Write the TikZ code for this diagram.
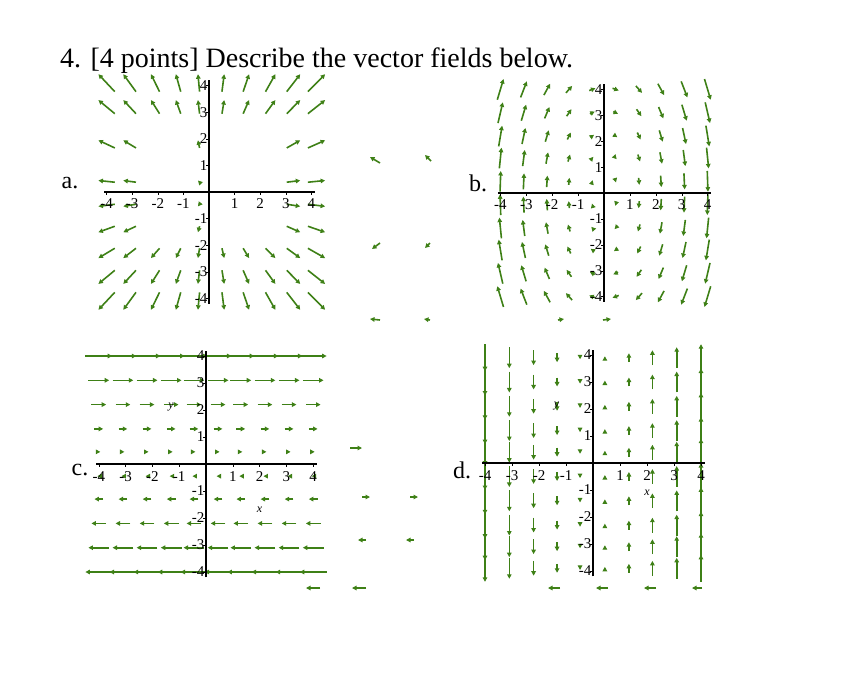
\documentclass[tikz,border=0pt]{standalone}
\usepackage{fontspec}
\setmainfont{Liberation Serif}
\usetikzlibrary{arrows.meta}
\definecolor{vgreen}{RGB}{62,128,22}
\tikzset{
  vec/.style={vgreen,line width=1.6pt,-{Triangle[length=4.5pt,width=4.5pt]}},
  axis/.style={black,line width=1.6pt},
  tick/.style={font=\fontsize{15}{15}\selectfont,inner sep=1pt},
  plab/.style={font=\fontsize{24}{24}\selectfont},
}
\newcommand{\vecat}[4]{% x y dx dy
  \pgfmathsetmacro{\vl}{sqrt((#3)*(#3)+(#4)*(#4))}
  \ifdim\vl pt<0.07pt
    \fill[vgreen] (#1,#2) circle (1.1pt);
  \else
    \draw[vec] ({#1-0.5*(#3)},{#2-0.5*(#4)}) -- ++({#3},{#4});
  \fi}
\newcommand{\axesticks}{%
  \draw[axis] (-4.1,0) -- (4.15,0);
  \draw[axis] (0,-4.2) -- (0,4.2);
  \foreach \t in {-4,-3,-2,-1,1,2,3,4}{
    \draw[black,thin] (\t,0) -- (\t,-0.1);
    \draw[black,thin] (0,\t) -- (-0.1,\t);
    \node[tick] (xl\t) at (\t,-0.45) {\t};
    \node[tick,anchor=east] (yl\t) at (-0.02,\t) {\t};
  }}
\begin{document}
\begin{tikzpicture}[x=1pt,y=-1pt]
\useasboundingbox (0,0) rectangle (852,675);
\node[anchor=base west,font=\fontsize{28}{28}\selectfont,inner sep=0pt] (title) at (60,67) {4. [4 points] Describe the vector fields below.};
\node[plab] (la) at (70,183) {a.};
\node[plab] (lb) at (478,183) {b.};
\node[plab] (lc) at (80,470) {c.};
\node[plab] (ld) at (462,470) {d.};
% panel a
\begin{scope}[shift={(209,192)},x=25.6pt,y=26.6pt]
\foreach \x in {-4,-3.1,-2.1,-1.2,-0.4,0.55,1.45,2.4,3.3,4.2}
 \foreach \y in {4.1,3.2,1.8,0.4,-0.5,-1.4,-2.3,-3.2,-4.1}{
   \pgfmathparse{(abs(\x)<2.5 && abs(\x)>0.5 && abs(\y)>0.2 && abs(\y)<2)?1:0}
   \ifnum\pgfmathresult=0 \vecat{\x}{\y}{0.16*\x}{0.16*\y}\fi}
\axesticks
\end{scope}
% stray arrows
\draw[vec] (380,163) -- ++(-10,-6); \draw[vec] (431,161) -- ++(-6,-6);
\draw[vec] (380,243) -- ++(-8,6); \draw[vec] (430,243) -- ++(-5,5);
\draw[vec] (380,320) -- ++(-10,-1); \draw[vec] (430,320) -- ++(-6,-1);
% panel b
\begin{scope}[shift={(604,193)},x=25.9pt,y=25.9pt]
\foreach \x in {-4,-3.1,-2.2,-1.35,-0.45,0.45,1.35,2.2,3.1,4}
 \foreach \y in {4,3.1,2.2,1.35,0.45,-0.45,-1.35,-2.2,-3.1,-4}{
   \vecat{\x}{\y}{0.06*\y}{-0.2*\x}}
\axesticks
\end{scope}
\draw[vec] (558,320) -- ++(6,-1); \draw[vec] (603,320) -- ++(8,-1);
% panel c
\begin{scope}[shift={(206,464)},x=26.8pt,y=27pt]
\foreach \x in {-4,-3.1,-2.2,-1.3,-0.45,0.45,1.3,2.2,3.1,4}
 \foreach \y in {4,3.1,2.2,1.3,0.45,-0.45,-1.3,-2.2,-3.1,-4}{
   \vecat{\x}{\y}{0.25*\y}{0}}
\axesticks
\node[font=\itshape\fontsize{12}{12}\selectfont] (cy) at (-1.3,2.1) {y};
\node[font=\itshape\fontsize{12}{12}\selectfont] (cx) at (2.0,-1.7) {x};
\end{scope}
\draw[vec] (350,448) -- ++(12,0);
\draw[vec] (362,497) -- ++(8,0); \draw[vec] (410,497) -- ++(8,0);
\draw[vec] (366,540) -- ++(-8,0); \draw[vec] (414,540) -- ++(-8,0);
\draw[vec] (320,588) -- ++(-14,0); \draw[vec] (366,588) -- ++(-14,0);
% panel d
\begin{scope}[shift={(593,463)},x=27pt,y=27pt]
\foreach \x in {-4,-3.1,-2.2,-1.33,-0.48,0.44,1.33,2.2,3.1,4}
 \foreach \y in {3.9,3.0,2.1,1.2,0.4,-0.5,-1.4,-2.3,-3.1,-3.9}{
   \vecat{\x}{\y}{0}{0.25*\x}}
\axesticks
\node[font=\itshape\fontsize{12}{12}\selectfont] (dy) at (-1.35,2.1) {y};
\node[font=\itshape\fontsize{12}{12}\selectfont] (dx) at (2.0,-1.1) {x};
\end{scope}
\draw[vec] (560,588) -- ++(-12,0); \draw[vec] (608,588) -- ++(-12,0);
\draw[vec] (656,588) -- ++(-12,0); \draw[vec] (702,588) -- ++(-10,0);
\end{tikzpicture}
\end{document}
